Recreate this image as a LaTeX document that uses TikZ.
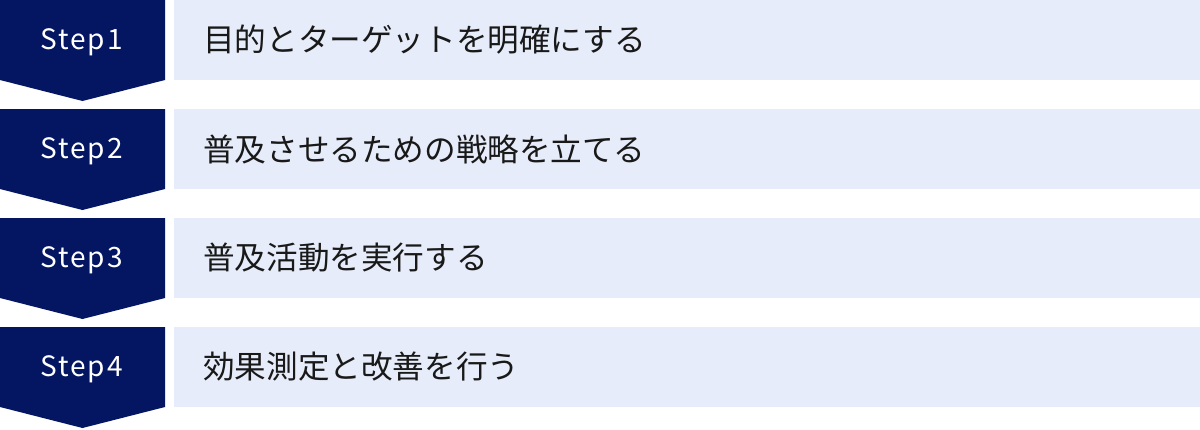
\documentclass[tikz,border=0pt]{standalone}
\usepackage{fontspec}
\setmainfont{Noto Sans CJK JP}
\usetikzlibrary{positioning}
\definecolor{navy}{HTML}{041662}
\definecolor{lightbar}{HTML}{E6ECF9}
\tikzset{
  x=1pt,y=-1pt,
  stepshape/.style={fill=navy,draw=none},
  barbox/.style={fill=lightbar,draw=none},
  steplabel/.style={text=white,font=\fontsize{28}{28}\selectfont,anchor=center},
  barlabel/.style={text=black!90,font=\fontsize{31.6}{31.6}\selectfont,anchor=west,inner sep=0pt}
}
\begin{document}
\begin{tikzpicture}
\useasboundingbox[fill=white] (0,0) rectangle (1200,429);
\foreach \i/\t in {0/目的とターゲットを明確にする,1/普及させるための戦略を立てる,2/普及活動を実行する,3/効果測定と改善を行う}{
  \pgfmathsetmacro{\yy}{\i*109}
  \fill[stepshape] (0,\yy) -- (165,\yy) -- (165,\yy+80) -- (82.5,\yy+101) -- (0,\yy+80) -- cycle;
  \fill[barbox] (174,\yy) rectangle (1200,\yy+80);
  \pgfmathtruncatemacro{\n}{\i+1}
  \node[steplabel] (s\n) at (81.5,\yy+42.5) {\addfontfeatures{LetterSpace=7}Step\n};
  \node[barlabel] (b\n) at (203,\yy+40) {\t};
}
\end{tikzpicture}
\end{document}
